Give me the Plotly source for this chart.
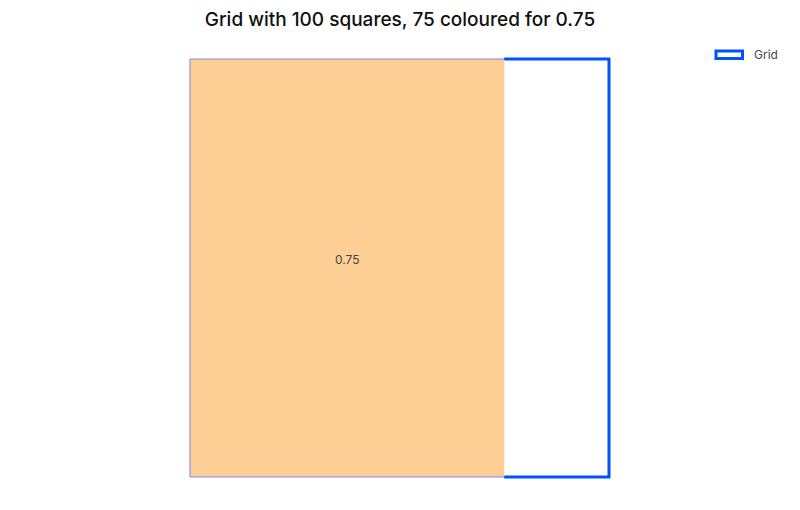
import plotly.graph_objects as go

# Data
total_squares = 100
coloured_squares = 75
value = coloured_squares / total_squares  # 0.75
grid_x = [0, 1]
grid_y = [0, 1]
label_text = "0.75"
legend_name = "Grid"
title_text = "Grid with 100 squares, 75 coloured for 0.75"

FONT = "Inter"
BLUE = "#0052FA"
LAVENDER = "#8080FA"
ORANGE = "#FDCF94"

# small padding so the thick outline is not clipped at the plot edge
PX, PY = 3 / 419, 3 / 418

fig = go.Figure()
# coloured part of the grid
fig.add_shape(type="rect", x0=grid_x[0], x1=value, y0=grid_y[0], y1=grid_y[1],
              xref="x", yref="y", line=dict(width=0),
              fillcolor=ORANGE, layer="below")
# thin outline of the whole grid
fig.add_shape(type="rect", x0=grid_x[0], x1=grid_x[1], y0=grid_y[0], y1=grid_y[1],
              xref="x", yref="y", line=dict(color=LAVENDER, width=1),
              fillcolor="rgba(0,0,0,0)", layer="below")
# thick outline around the uncoloured part of the grid
fig.add_trace(go.Scatter(
    x=[value, grid_x[1], grid_x[1], value], y=[grid_y[1], grid_y[1], grid_y[0], grid_y[0]],
    mode="lines", line=dict(color=BLUE, width=3), name=legend_name,
    showlegend=False, hoverinfo="skip",
))

fig.add_annotation(
    x=value / 2, y=0.5, text=label_text, showarrow=False,
    font=dict(family=FONT, size=12, color="#444444"), yshift=9,
)

# legend entry (icon + label)
fig.add_shape(type="rect", xref="paper", yref="paper",
              x0=1.2447, x1=1.3071, y0=0.9941, y1=1.0118,
              line=dict(color=BLUE, width=3), fillcolor="white")
fig.add_annotation(xref="paper", yref="paper", x=1.3294, y=1.0024,
                   xanchor="left", yanchor="middle", text=legend_name,
                   showarrow=False, font=dict(family=FONT, size=12, color="#444444"))

fig.update_layout(
    width=784, height=494,
    margin=dict(l=179, r=180, t=48, b=22),
    paper_bgcolor="white", plot_bgcolor="white",
    title=dict(text=title_text, x=0.5, xanchor="center", y=0.9777, yanchor="middle",
               font=dict(family=FONT, size=19, color="#111111", weight=500)),
    font=dict(family=FONT, size=12, color="#444444"),
    xaxis=dict(range=[-PX, 1 + PX], visible=False),
    yaxis=dict(range=[-PY, 1 + PY], visible=False),
    showlegend=False,
)
fig.write_html("out.html")
